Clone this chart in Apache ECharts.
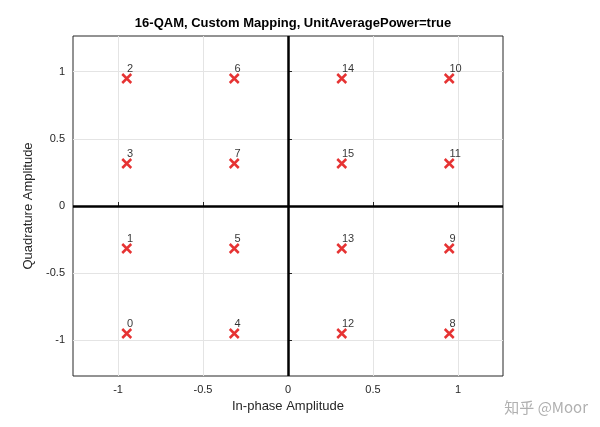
<!DOCTYPE html>
<html><head><meta charset="utf-8">
<script src="https://cdn.jsdelivr.net/npm/echarts@6/dist/echarts.min.js"></script>
<style>html,body{margin:0;padding:0;background:#fff}#c{width:600px;height:427px}</style>
</head><body><div id="c"></div>
<script>
const xs = [-0.9487,-0.9487,-0.9487,-0.9487,-0.3162,-0.3162,-0.3162,-0.3162,0.3162,0.3162,0.3162,0.3162,0.9487,0.9487,0.9487,0.9487];
const ys = [0.9487,0.3162,-0.3162,-0.9487,0.9487,0.3162,-0.3162,-0.9487,0.9487,0.3162,-0.3162,-0.9487,0.9487,0.3162,-0.3162,-0.9487];
const symbols = [2,3,1,0,6,7,5,4,14,15,13,12,10,11,9,8];
const xTicks = [-1,-0.5,0,0.5,1];
const yTicks = [-1,-0.5,0,0.5,1];
const lim = 1.2649;
const data = xs.map((x,i)=>[x,ys[i],symbols[i]]);
const ax = (ticks,name,gap)=>({type:'value',min:-lim,max:lim,name:name,nameLocation:'middle',nameGap:gap,
  nameTextStyle:{color:'#262626',fontSize:13,fontFamily:'Liberation Sans'},
  axisLine:{show:false},
  axisTick:{show:true,customValues:ticks,inside:true,length:4,lineStyle:{color:'#262626'}},
  axisLabel:{customValues:ticks,color:'#262626',fontSize:11,fontFamily:'Liberation Sans',formatter:v=>String(v)},
  splitLine:{show:true,lineStyle:{color:'#e4e4e4'}}});
const chart = echarts.init(document.getElementById('c'));
chart.setOption({
  animation:false,
  title:{text:'16-QAM, Custom Mapping, UnitAveragePower=true',left:288,textAlign:'center',top:12,
    textStyle:{fontSize:13,fontWeight:'bold',color:'#000',fontFamily:'Liberation Sans'}},
  graphic:[{type:'text',right:12,bottom:12,style:{text:'知乎 @Moor',fill:'#b0b0b0',fontSize:15,fontFamily:'Noto Sans CJK SC'}}],
  grid:{left:73,right:97,top:36,bottom:51,show:true,borderColor:'#262626',borderWidth:1},
  xAxis:ax(xTicks,'In-phase Amplitude',22),
  yAxis:ax(yTicks,'Quadrature Amplitude',38),
  series:[{type:'scatter',data:data,symbol:'path://M0,0L10,10M10,0L0,10',symbolSize:9,
    itemStyle:{color:'transparent',borderColor:'#e00000',borderWidth:2.5},
    label:{show:true,position:[6,-9],formatter:p=>String(p.value[2]),color:'#000',fontSize:11,fontFamily:'Liberation Sans'},
    markLine:{silent:true,symbol:'none',label:{show:false},lineStyle:{color:'#000',width:2.5,type:'solid'},
      data:[{xAxis:0},{yAxis:0}]}}]
});
</script></body></html>
